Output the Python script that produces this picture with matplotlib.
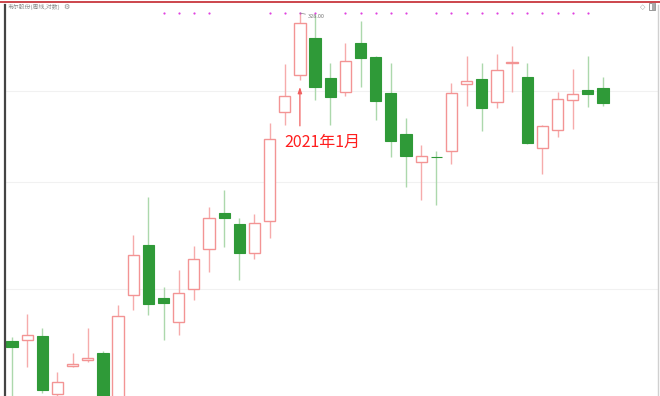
import matplotlib
matplotlib.use("Agg")
import matplotlib.pyplot as plt
from matplotlib.lines import Line2D
from matplotlib.patches import Rectangle

plt.rcParams['font.family'] = ['Noto Sans CJK SC', 'DejaVu Sans']

# Weekly candles (log scale chart)
opens  = [187.9, 188.2, 189.5, 171.7, 180.0, 181.9, 184.1, 169.9, 203.1, 221.1,
          202.1, 194.0, 205.2, 219.6, 233.5, 229.2, 218.2, 230.3, 277.2, 295.2,
          314.4, 293.7, 286.8, 311.7, 304.4, 286.3, 267.1, 254.6, 257.0, 259.4,
          290.7, 293.2, 282.0, 301.3, 294.2, 260.8, 268.9, 282.9, 287.8, 288.8]
highs  = [189.1, 196.7, 192.1, 178.2, 184.1, 192.1, 184.7, 199.7, 224.9, 239.9,
          205.9, 211.9, 220.8, 235.9, 242.8, 231.5, 233.1, 272.1, 300.8, 328.0,
          326.9, 301.3, 311.7, 323.6, 305.0, 301.3, 274.4, 262.1, 259.4, 291.2,
          304.9, 301.3, 305.9, 310.1, 301.3, 271.2, 286.8, 298.2, 304.9, 294.2]
lows   = [170.0, 179.7, 172.0, 168.5, 179.7, 181.3, 167.1, 168.5, 198.0, 196.3,
          188.2, 189.8, 201.4, 211.2, 220.4, 208.4, 215.9, 223.8, 271.2, 292.7,
          282.9, 271.2, 284.9, 289.3, 273.5, 256.8, 244.1, 238.7, 236.7, 253.8,
          280.1, 268.4, 279.1, 286.8, 262.5, 249.5, 265.7, 269.3, 279.6, 280.1]
closes = [186.0, 189.8, 172.8, 175.2, 180.7, 182.5, 168.5, 196.0, 217.4, 200.0,
          200.4, 203.8, 215.9, 231.5, 231.5, 218.2, 229.6, 264.8, 284.9, 322.5,
          289.3, 284.4, 302.3, 303.9, 282.4, 263.9, 257.2, 257.2, 256.6, 286.3,
          292.2, 279.1, 297.7, 301.8, 263.0, 270.7, 283.4, 285.8, 285.8, 281.5]
signal_dots = [0, 0, 0, 0, 0, 0, 0, 0, 0, 0,
               1, 1, 1, 1, 0, 0, 0, 1, 1, 1,
               1, 0, 1, 1, 1, 1, 1, 0, 1, 1,
               1, 1, 1, 1, 1, 1, 1, 1, 1, 0]
grid_levels = [287.3, 246.0, 205.2]
title_text = "韦尔股份(周线,对数)"
peak_label = "328.00"
note_text = "2021年1月"
note_index = 19

RED_EDGE = '#f39494'
RED_WICK = '#f6abab'
GREEN_BODY = '#2f9a38'
GREEN_WICK = '#acd8ac'

fig = plt.figure(figsize=(6.6, 3.96), dpi=100)
fig.patch.set_facecolor('white')
ax = fig.add_axes([5 / 660, 0, 653 / 660, 391 / 396])
ax.set_yscale('log')

n = len(opens)
xs = list(range(n))
for i in xs:
    o, h, l, c = opens[i], highs[i], lows[i], closes[i]
    up = c >= o
    wick_col = RED_WICK if up else GREEN_WICK
    ax.vlines(i, l, h, color=wick_col, lw=1.0, zorder=1)
    bottom = min(o, c)
    height = max(abs(c - o), 0.25)
    if up:
        ax.bar(i, height, bottom=bottom, width=0.74, facecolor='white',
               edgecolor=RED_EDGE, linewidth=1.0, zorder=2)
    else:
        ax.bar(i, height, bottom=bottom, width=0.74, facecolor=GREEN_BODY,
               edgecolor=GREEN_BODY, linewidth=0.8, zorder=2)

for g in grid_levels:
    ax.axhline(g, color='#f1f1f1', lw=0.8, zorder=0)

# signal dots along the top
dot_x = [i for i in xs if signal_dots[i]]
ax.scatter(dot_x, [0.9795] * len(dot_x), s=2.5, color='#e040e0',
           transform=ax.get_xaxis_transform(), zorder=3, linewidths=0)

ax.set_xlim(-0.46, 42.63)
ax.set_ylim(171.1, 332.5)
ax.set_xticks([])
ax.set_yticks([])
ax.minorticks_off()
ax.yaxis.set_minor_locator(matplotlib.ticker.NullLocator())
for s in ['top', 'bottom']:
    ax.spines[s].set_visible(False)
ax.spines['left'].set_color('#444444')
ax.spines['left'].set_linewidth(1.6)
ax.spines['right'].set_color('#d0d0d0')
ax.spines['right'].set_linewidth(1.0)

# peak label
pk = highs.index(max(highs))
ax.annotate(peak_label, xy=(pk, highs[pk]), xytext=(6, -2.5),
            textcoords='offset points', fontsize=4, color='#777777',
            va='center', ha='left',
            arrowprops=dict(arrowstyle='-', color='#888888', lw=0.5,
                            shrinkA=0, shrinkB=0))

# annotation arrow + text
ax.annotate('', xy=(note_index, lows[note_index]), xytext=(0, -33),
            textcoords='offset points',
            arrowprops=dict(arrowstyle='-|>,head_length=0.35,head_width=0.12',
                            color='#f06060', lw=0.9, shrinkA=0, shrinkB=5))
ax.annotate(note_text, xy=(note_index, lows[note_index]), xytext=(-11, -45),
            textcoords='offset points', fontsize=11.5, color='#ff1e1e',
            va='center', ha='left')

# frame decorations
fig.add_artist(Line2D([0, 1], [1 - 2 / 396, 1 - 2 / 396], color='#c4262e',
                      lw=1.2, transform=fig.transFigure))
fig.text(8 / 660, 1 - 6.5 / 396, title_text, fontsize=4.2, color='#888888',
         va='center', ha='left')
fig.text(66 / 660, 1 - 6.5 / 396, '⚙', fontsize=5, color='#888888',
         va='center', ha='center', family='DejaVu Sans')
fig.text(643 / 660, 1 - 7 / 396, '◇', fontsize=5, color='#999999',
         va='center', ha='center', family='DejaVu Sans')
fig.add_artist(Rectangle((649 / 660, 1 - 10 / 396), 6 / 660, 7 / 396,
                         transform=fig.transFigure, facecolor='white',
                         edgecolor='#888888', lw=0.6))
fig.add_artist(Rectangle((652 / 660, 1 - 10 / 396), 3 / 660, 7 / 396,
                         transform=fig.transFigure, facecolor='#aaaaaa',
                         edgecolor='none'))

fig.savefig('out.png', dpi=100, facecolor='white')
